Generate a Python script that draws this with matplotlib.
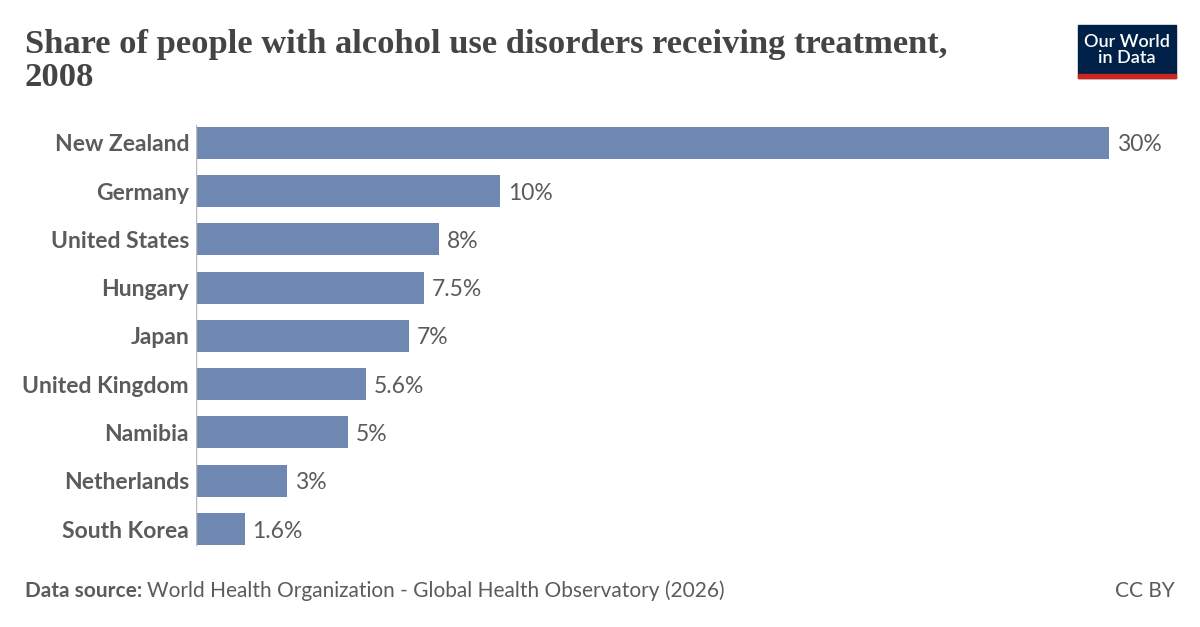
import matplotlib.pyplot as plt
from matplotlib.patches import Rectangle

countries = ["New Zealand", "Germany", "United States", "Hungary", "Japan",
             "United Kingdom", "Namibia", "Netherlands", "South Korea"]
shares = [30, 10, 8, 7.5, 7, 5.6, 5, 3, 1.6]
value_labels = ["30%", "10%", "8%", "7.5%", "7%", "5.6%", "5%", "3%", "1.6%"]

W, H = 1200, 627
fig = plt.figure(figsize=(W / 100, H / 100), dpi=100)
fig.patch.set_facecolor("white")

grey = "#5b5b5b"
bar_col = "#6f88b1"

# axes: x 0..30 maps to px 196..1109; bar centers 143..529
spacing = (529 - 143) / 8
top_px = 143 - spacing / 2
bot_px = 529 + spacing / 2
ax = fig.add_axes([196 / W, 1 - bot_px / H, (1109 - 196) / W, (bot_px - top_px) / H])
ypos = list(range(len(countries)))
ax.barh(ypos, shares, height=32 / spacing, color=bar_col)
ax.set_xlim(0, 30)
ax.set_ylim(len(countries) - 0.5, -0.5)
for s in ["top", "right", "bottom", "left"]:
    ax.spines[s].set_visible(False)
ax.axvline(0, ymin=(bot_px - 545) / (bot_px - top_px), ymax=(bot_px - 125) / (bot_px - top_px),
           color="#bbbbbb", lw=1)
ax.set_xticks([])
ax.set_yticks(ypos)
ax.set_yticklabels(countries, fontfamily="Lato", fontweight="bold", fontsize=16.5, color=grey)
ax.tick_params(axis="y", length=0, pad=5)
for y, v, lab in zip(ypos, shares, value_labels):
    ax.text(v + 0.25, y, lab, va="center_baseline", ha="left", fontfamily="Lato",
            fontsize=16.5, color=grey)

# title
fig.text(25 / W, 1 - 61 / H, "Share of people with alcohol use disorders receiving treatment,\n2008",
         ha="left", va="center", fontfamily="Liberation Serif", fontweight="bold",
         fontsize=24.8, color="#444444", linespacing=1.1)

# footer
t = fig.text(25 / W, 1 - 591 / H, "Data source:", ha="left", va="center",
             fontfamily="Lato", fontweight="bold", fontsize=15, color=grey)
fig.canvas.draw()
bb = t.get_window_extent()
fig.text((bb.x1 + 5) / W, 1 - 591 / H,
         "World Health Organization - Global Health Observatory (2026)",
         ha="left", va="center", fontfamily="Lato", fontsize=15, color=grey)
fig.text(1175 / W, 1 - 591 / H, "CC BY", ha="right", va="center",
         fontfamily="Lato", fontsize=15, color=grey)

# logo
fig.patches.append(Rectangle((1078 / W, 1 - 78 / H), 98 / W, 53 / H,
                             transform=fig.transFigure, color="#002147"))
fig.patches.append(Rectangle((1078 / W, 1 - 78 / H), 98 / W, 4 / H,
                             transform=fig.transFigure, color="#ce261e"))
fig.text(1127 / W, 1 - 50 / H, "Our World\nin Data", ha="center", va="center",
         fontfamily="Lato", fontweight="semibold", fontsize=13, color="white", linespacing=1.0)

fig.savefig("out.png", dpi=100)
